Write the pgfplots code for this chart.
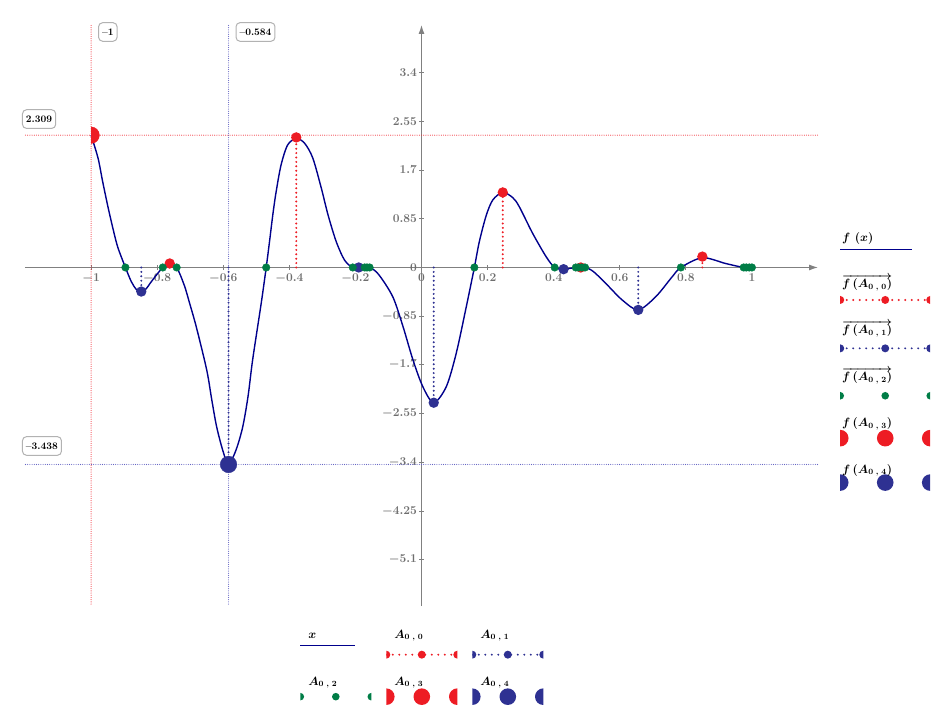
\documentclass[border=0pt]{standalone}
\usepackage{pgfplots}
\pgfplotsset{compat=1.18}
\usetikzlibrary{arrows.meta}

\definecolor{cRed}{RGB}{237,28,36}
\definecolor{cBlue}{RGB}{46,49,146}
\definecolor{cGreen}{RGB}{0,125,70}
\definecolor{cNavy}{RGB}{0,0,140}
\definecolor{cAxis}{RGB}{128,128,128}
\definecolor{cTick}{RGB}{110,110,110}
\definecolor{cMBlue}{RGB}{100,100,195}
\definecolor{cMRed}{RGB}{240,40,50}

% legend samples: text above, sample drawn below it
% #1 dy, #2 length, #3 colour, #4 dot radius, #5 dotted line (1/0), #6 dx
\newcommand{\legsample}[6]{%
  \begin{scope}[overlay, xshift=#6, yshift=#1]
    \pgfpathrectangle{\pgfpoint{0pt}{-9pt}}{\pgfpoint{#2}{18pt}}\pgfusepath{clip}
    \ifnum#5=1
      \draw[color=#3, line width=2.2pt, line cap=round, dash pattern=on 0pt off 6.5pt] (0pt,0pt) -- (#2,0pt);
    \fi
    \fill[color=#3, draw=none] (0pt,0pt) circle[radius=#4] (#2/2,0pt) circle[radius=#4] (#2,0pt) circle[radius=#4];
  \end{scope}}
\newcommand{\legline}[3]{%
  \fill[overlay, color=cNavy, draw=none] (#3,#1-0.8pt) rectangle (#2+#3,#1+0.8pt);}

\pgfplotsset{
  stem/.style={ycomb, line width=2.2pt, line cap=round, dash pattern=on 0pt off 4.4pt,
    mark=*, mark size=4pt, mark options={solid, draw=none}},
  mark line/.style={line width=1.1pt, line cap=round, dash pattern=on 0pt off 2.2pt, forget plot},
}
\tikzset{mlabel/.style={draw=gray!60, line width=1pt, rounded corners=4pt, fill=white,
  inner xsep=3.5pt, inner ysep=6pt, font=\bfseries}}

\begin{document}
\begin{tikzpicture}
\useasboundingbox (-25pt,-107pt) rectangle (926pt,606pt);
\begin{axis}[
  at={(0pt,0pt)}, anchor=south west,
  scale only axis, width=793pt, height=581pt,
  xmin=-1.2, xmax=1.2, ymin=-5.908, ymax=4.232,
  axis lines=center,
  axis line style={cAxis, line width=1pt, -{Latex[length=9pt,width=6pt]}},
  xtick={-1,-0.8,-0.6,-0.4,-0.2,0,0.2,0.4,0.6,0.8,1},
  ytick={-5.1,-4.25,-3.4,-2.55,-1.7,-0.85,0,0.85,1.7,2.55,3.4},
  hide obscured x ticks=false, hide obscured y ticks=false,
  tick align=center, major tick length=5pt,
  tick style={cAxis, line width=0.8pt},
  ticklabel style={font=\boldmath\large, text=cTick},
  yticklabel style={xshift=1.5pt},
  clip mode=individual,
  legend cell align=left,
  legend style={draw=none, fill=none, font=\boldmath\large, at={(1.0303,0.656)}, anchor=north west,
    inner sep=0pt, column sep=0pt, row sep=23.4pt,
    nodes={inner sep=0pt, text height=16pt, text depth=7pt}},
]
% markers (x = -1, x = -0.584, y = 2.309, y = -3.438)
\addplot[ycomb, mark line, color=cMBlue] coordinates {(-0.584,4.232) (-0.584,-5.908)};
\addplot[xcomb, mark line, color=cMBlue] coordinates {(1.2,-3.438) (-1.2,-3.438)};
\addplot[ycomb, mark line, color=cMRed] coordinates {(-1,4.232) (-1,-5.908)};
\addplot[xcomb, mark line, color=cMRed] coordinates {(1.2,2.309) (-1.2,2.309)};

% f(x)
\addplot[color=cNavy, line width=1.4pt, smooth, forget plot] coordinates {
(-1.000,2.309) (-0.979,1.91) (-0.965,1.50) (-0.949,1.06) (-0.933,0.66) (-0.919,0.35)
(-0.896,0.0) (-0.878,-0.25) (-0.862,-0.39) (-0.848,-0.42) (-0.833,-0.37) (-0.818,-0.25)
(-0.783,0.0) (-0.762,0.05) (-0.741,0.0) (-0.718,-0.31) (-0.702,-0.62) (-0.681,-1.05)
(-0.650,-1.79) (-0.635,-2.30) (-0.620,-2.78) (-0.601,-3.20) (-0.584,-3.438) (-0.561,-3.18)
(-0.541,-2.78) (-0.525,-2.25) (-0.511,-1.61) (-0.485,-0.62) (-0.470,0.0) (-0.460,0.45)
(-0.450,0.92) (-0.440,1.32) (-0.425,1.79) (-0.405,2.14) (-0.379,2.25) (-0.354,2.17)
(-0.329,1.91) (-0.303,1.38) (-0.283,0.92) (-0.258,0.45) (-0.233,0.13) (-0.208,0.0)
(-0.180,0.0) (-0.157,0.0) (-0.130,-0.12) (-0.087,-0.51) (-0.056,-1.03) (-0.026,-1.61)
(0.004,-2.08) (0.037,-2.36) (0.075,-2.08) (0.105,-1.50) (0.135,-0.70) (0.160,0.0)
(0.175,0.45) (0.196,0.91) (0.216,1.18) (0.246,1.31) (0.276,1.22) (0.296,1.06)
(0.336,0.60) (0.377,0.19) (0.403,0.0) (0.430,-0.03) (0.467,0.0) (0.495,0.0)
(0.520,-0.07) (0.558,-0.28) (0.608,-0.57) (0.656,-0.74) (0.709,-0.51) (0.759,-0.16)
(0.785,0.0) (0.850,0.17) (0.920,0.07) (0.975,0.0) (1.000,0.0)};

% A0,0 maxima
\addplot[stem, color=cRed, forget plot] coordinates {
(-0.762,0.07) (-0.379,2.27) (0.246,1.31) (0.482,0.0) (0.850,0.19)};
% A0,1 minima
\addplot[stem, color=cBlue, forget plot] coordinates {
(-0.848,-0.42) (-0.584,-3.438) (-0.190,0.0) (0.037,-2.36) (0.430,-0.03) (0.656,-0.74)};
% A0,2 roots
\addplot[only marks, mark=*, color=cGreen, mark size=3.8pt, mark options={draw=none}, forget plot] coordinates {
(-0.896,0) (-0.783,0) (-0.741,0) (-0.470,0) (-0.208,0) (-0.172,0) (-0.165,0) (-0.157,0)
(0.160,0) (0.403,0) (0.467,0) (0.475,0) (0.485,0) (0.495,0) (0.785,0)
(0.975,0) (0.983,0) (0.992,0) (1.0,0)};
% A0,3 global max (cut off left of x = -1), A0,4 global min
\begin{scope}
\clip (axis cs:-1,-5.908) rectangle (axis cs:1.2,4.232);
\addplot[only marks, mark=*, color=cRed, mark size=8.3pt, mark options={draw=none}, forget plot]
  coordinates {(-1,2.309)};
\end{scope}
\addplot[only marks, mark=*, color=cBlue, mark size=8.3pt, mark options={draw=none}, forget plot]
  coordinates {(-0.584,-3.438)};

% marker labels
\node[mlabel, anchor=west] at (axis cs:-1,4.11) [xshift=7pt] {--1};
\node[mlabel, anchor=west] at (axis cs:-0.584,4.11) [xshift=7pt] {--0.584};
\node[mlabel, anchor=west] at (axis cs:-1.2,2.59) [xshift=-3pt] {2.309};
\node[mlabel, anchor=west] at (axis cs:-1.2,-3.115) [xshift=-3pt] {--3.438};

% y legend
\addlegendimage{legend image code/.code={\legline{-13pt}{72pt}{-2pt}}}
\addlegendentry{$f\,\left(x\right)$}
\addlegendimage{legend image code/.code={\legsample{-17pt}{90pt}{cRed}{4pt}{1}{-2pt}}}
\addlegendentry{$\overrightarrow{f\left(A_{0\;,\;0}\right)}$}
\addlegendimage{legend image code/.code={\legsample{-19pt}{90pt}{cBlue}{4pt}{1}{-2pt}}}
\addlegendentry{$\overrightarrow{f\left(A_{0\;,\;1}\right)}$}
\addlegendimage{legend image code/.code={\legsample{-20pt}{90pt}{cGreen}{3.8pt}{0}{-2pt}}}
\addlegendentry{$\overrightarrow{f\left(A_{0\;,\;2}\right)}$}
\addlegendimage{legend image code/.code={\legsample{-16pt}{90pt}{cRed}{8.3pt}{0}{-2pt}}}
\addlegendentry{$f\left(A_{0\;,\;3}\right)$}
\addlegendimage{legend image code/.code={\legsample{-14pt}{90pt}{cBlue}{8.3pt}{0}{-2pt}}}
\addlegendentry{$f\left(A_{0\;,\;4}\right)$}
\end{axis}

% x legend
\begin{axis}[
  at={(0pt,0pt)}, anchor=south west,
  scale only axis, width=793pt, height=581pt,
  xmin=0, xmax=1, ymin=0, ymax=1, hide axis,
  legend columns=3, legend cell align=left,
  legend style={draw=none, fill=none, font=\boldmath\large, at={(0.357,-0.0275)}, anchor=north west,
    inner sep=0pt, column sep=0pt, row sep=24pt,
    nodes={inner sep=0pt, text height=16pt, text depth=7pt}},
]
\addlegendimage{legend image code/.code={\legline{-12pt}{55pt}{-8pt}}}
\addlegendentry{\makebox[86pt][l]{$x$}}
\addlegendimage{legend image code/.code={\legsample{-21pt}{71pt}{cRed}{4pt}{1}{-8pt}}}
\addlegendentry{\makebox[86pt][l]{$A_{0\;,\;0}$}}
\addlegendimage{legend image code/.code={\legsample{-21pt}{71pt}{cBlue}{4pt}{1}{-8pt}}}
\addlegendentry{\makebox[86pt][l]{$A_{0\;,\;1}$}}
\addlegendimage{legend image code/.code={\legsample{-16pt}{71pt}{cGreen}{3.8pt}{0}{-8pt}}}
\addlegendentry{\makebox[86pt][l]{$A_{0\;,\;2}$}}
\addlegendimage{legend image code/.code={\legsample{-16pt}{71pt}{cRed}{8.3pt}{0}{-8pt}}}
\addlegendentry{\makebox[86pt][l]{$A_{0\;,\;3}$}}
\addlegendimage{legend image code/.code={\legsample{-16pt}{71pt}{cBlue}{8.3pt}{0}{-8pt}}}
\addlegendentry{\makebox[86pt][l]{$A_{0\;,\;4}$}}
\end{axis}
\end{tikzpicture}
\end{document}
